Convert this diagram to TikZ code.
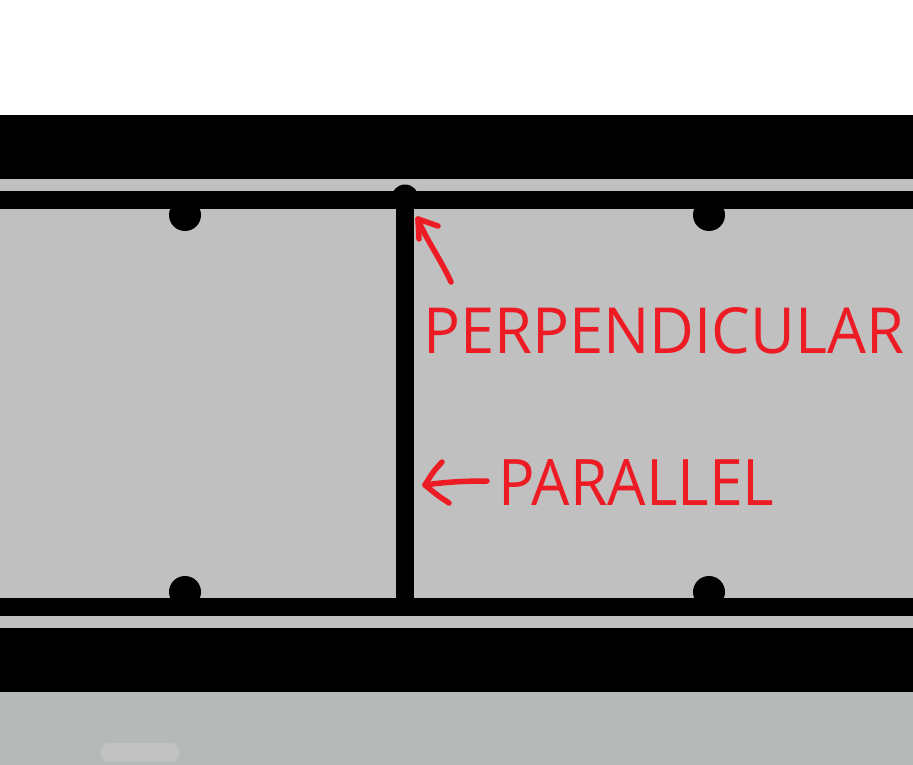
\documentclass[tikz,border=0pt]{standalone}
\usepackage{fontspec}
\setmainfont{Open Sans}
\definecolor{panelgray}{HTML}{C0C0C0}
\definecolor{floorgray}{HTML}{B5BAB8}
\definecolor{pillgray}{HTML}{C2C2C2}
\definecolor{markred}{HTML}{ED1C24}
\tikzset{
  band/.style={fill=black},
  dot/.style={fill=black},
  redstroke/.style={draw=markred, line width=5.5pt, line cap=round, line join=round},
  redlabel/.style={text=markred, inner sep=0pt, anchor=south west},
}
\begin{document}
\begin{tikzpicture}[x=1pt,y=-1pt]
\useasboundingbox (0,0) rectangle (913,765);
\fill[white] (0,0) rectangle (913,765);
% bands
\fill[band] (0,115) rectangle (913,179);
\fill[panelgray] (0,179) rectangle (913,628);
\fill[band] (0,191) rectangle (913,209);
\fill[band] (0,598) rectangle (913,616);
\fill[band] (0,628) rectangle (913,692);
\fill[floorgray] (0,692) rectangle (913,765);
\fill[pillgray, rounded corners=8pt] (101,743) rectangle (179,762);
% vertical member
\fill[band] (396,191) rectangle (414,616);
% dots
\fill[dot] (405,198) circle (13.5);
\fill[dot] (185,215) circle (16);
\fill[dot] (709,215) circle (16);
\fill[dot] (185,592) circle (16);
\fill[dot] (709,592) circle (16);
% labels
\node[redlabel] (perp) at (423,354) {\resizebox{481pt}{46pt}{PERPENDICULAR}};
\node[redlabel] (par) at (498,506) {\resizebox{276pt}{46pt}{PARALLEL}};
% arrow to perpendicular
\coordinate (ptip) at (418,219);
\draw[redstroke] (451,282) .. controls (440,258) and (424,236) .. (ptip);
\draw[redstroke] (438,226) -- (ptip) -- (419,239);
% arrow to parallel
\coordinate (atip) at (425,485);
\draw[redstroke] (487,481) .. controls (465,481) and (445,482) .. (atip);
\draw[redstroke] (442,462) .. controls (433,472) .. (atip) .. controls (437,495) .. (449,503);
\end{tikzpicture}
\end{document}
